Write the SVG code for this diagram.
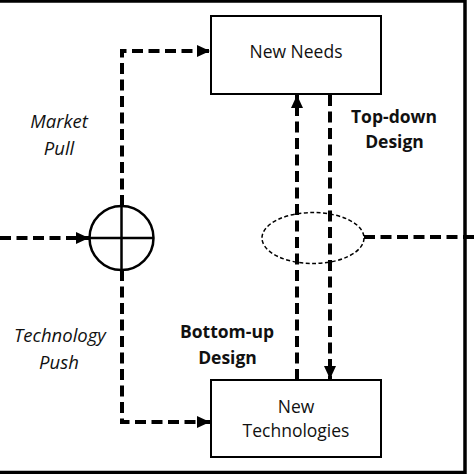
<svg xmlns="http://www.w3.org/2000/svg" width="474" height="474" viewBox="0 0 474 474">
  <style>
    .box { fill: #fff; stroke: #000; stroke-width: 2; }
    .flow { fill: none; stroke: #000; stroke-width: 4; stroke-dasharray: 11 5.5; }
    .frame { fill: none; stroke: #000; stroke-width: 3.5; }
    .t { font-family: "Open Sans", "Liberation Sans", sans-serif; font-size: 17.5px; fill: #111; text-anchor: middle; }
    .it { font-style: italic; font-size: 18.5px; }
    .b { font-weight: bold; }
  </style>
  <defs>
    <marker id="arr" markerUnits="userSpaceOnUse" markerWidth="14" markerHeight="12" refX="13" refY="6" orient="auto">
      <path d="M0,0 L13,6 L0,12 Z" fill="#000"/>
    </marker>
  </defs>
  <rect width="474" height="474" fill="#fff"/>
  <g id="frame">
    <path class="frame" d="M0,1 H465 V474"/>
    <path class="frame" d="M0,472.5 H465"/>
  </g>
  <g id="connectors">
    <path class="flow" d="M122,206 V51 H210" marker-end="url(#arr)"/>
    <path class="flow" d="M122,270 V422 H210" marker-end="url(#arr)"/>
    <path class="flow" d="M0,238 H89" marker-end="url(#arr)"/>
    <path class="flow" d="M297,380 V95" marker-end="url(#arr)"/>
    <path class="flow" d="M330,95 V379" marker-end="url(#arr)"/>
    <path class="flow" d="M364,237 H474"/>
  </g>
  <g id="junction">
    <circle cx="121.5" cy="238" r="32" fill="none" stroke="#000" stroke-width="2.5"/>
    <path d="M89.5,238 H153.5 M121.5,206 V270" stroke="#000" stroke-width="2.5" fill="none"/>
  </g>
  <g id="coupling">
    <ellipse cx="313" cy="238" rx="51" ry="25.5" fill="none" stroke="#000" stroke-width="1.5" stroke-dasharray="4 2.5"/>
  </g>
  <g id="new-needs">
    <rect class="box" x="211" y="16" width="170" height="78"/>
    <text class="t" x="296" y="57.5">New Needs</text>
  </g>
  <g id="new-technologies">
    <rect class="box" x="211" y="380" width="170" height="77"/>
    <text class="t" x="296" y="413">New</text>
    <text class="t" x="296" y="437">Technologies</text>
  </g>
  <g id="market-pull">
    <text class="t it" x="59" y="128">Market</text>
    <text class="t it" x="59" y="155">Pull</text>
  </g>
  <g id="technology-push">
    <text class="t it" x="60" y="342">Technology</text>
    <text class="t it" x="59" y="369">Push</text>
  </g>
  <g id="top-down">
    <text class="t b" x="394" y="123">Top-down</text>
    <text class="t b" x="394.5" y="148">Design</text>
  </g>
  <g id="bottom-up">
    <text class="t b" x="227" y="338">Bottom-up</text>
    <text class="t b" x="227.5" y="364">Design</text>
  </g>
</svg>
